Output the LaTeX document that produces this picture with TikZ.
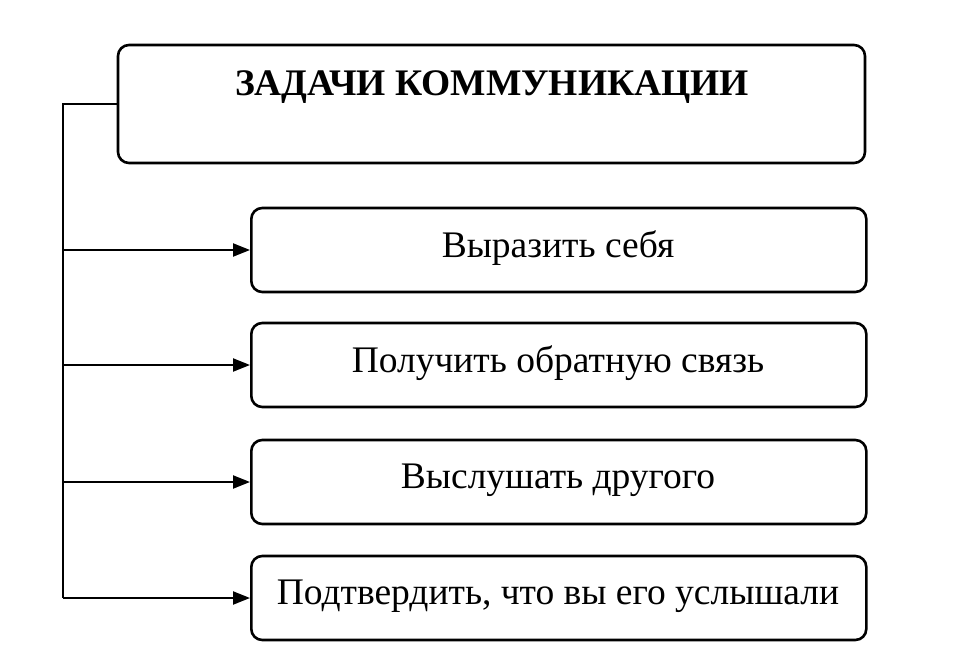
\documentclass[tikz,border=0pt]{standalone}
\usepackage{fontspec}
\setmainfont{Liberation Serif}
\usetikzlibrary{arrows.meta}
\begin{document}
\begin{tikzpicture}[x=1pt,y=-1pt,
  box/.style={draw,line width=2.6pt,rounded corners=11pt},
  txt/.style={font=\fontsize{37.5}{40}\selectfont},
  arr/.style={line width=2.2pt,-{Triangle[length=17pt,width=13pt]}}]
\useasboundingbox (0,0) rectangle (964,666);
\draw[box] (118,45) rectangle (865,163);
\node[txt,font=\fontsize{37.5}{40}\selectfont\bfseries] (t) at (492,87) {ЗАДАЧИ КОММУНИКАЦИИ};
\coordinate (top) at (118,104);
\coordinate (c) at (63,104);
\foreach \n/\y/\l in {a/250/Выразить себя, b/365/Получить обратную связь, d/482/Выслушать другого, e/598/{Подтвердить, что вы его услышали}}{
  \node[box,minimum width=615pt,minimum height=84pt,anchor=west] (\n) at (250,\y) {};
  \node[txt] (\n t) at (558,\y-2) {\l};
}
\draw[line width=2.2pt] (top) -- (c) -- (c |- e.west);
\foreach \n in {a,b,d,e} \draw[arr] (c |- \n.west) -- (\n.west);
\end{tikzpicture}
\end{document}
